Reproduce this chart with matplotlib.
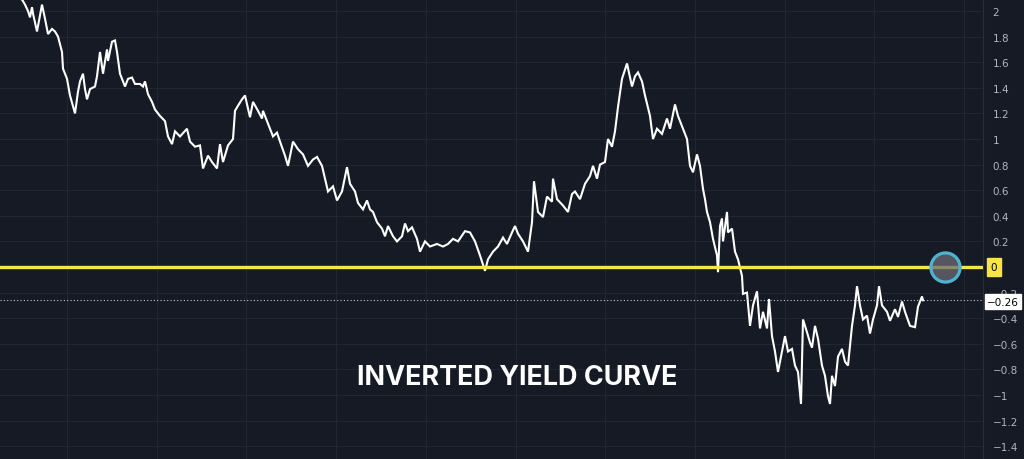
"""
Curva de rendimientos invertida: diferencial de tasas (estilo TradingView oscuro).
Guarda la figura en out.png.
"""

import numpy as np
import matplotlib

matplotlib.use("Agg")
import matplotlib.pyplot as plt

# --------------------------------------------------------------------------- #
# Datos (posición de la sesión y diferencial en puntos)
# --------------------------------------------------------------------------- #
sesion = [
    14, 22, 25, 28, 30, 32, 33, 37, 42, 45, 48, 52, 55, 58, 62, 63, 67, 70, 75, 78,
    80, 83, 85, 87, 90, 95, 97, 100, 103, 107, 108, 112, 115, 117, 120, 125, 128, 132,
    135, 140, 143, 145, 148, 152, 155, 160, 165, 168, 172, 175, 180, 187, 190, 195,
    200, 203, 208, 212, 217, 220, 223, 228, 233, 235, 238, 242, 245, 250, 253, 258,
    262, 263, 268, 273, 277, 280, 285, 288, 293, 298, 303, 308, 313, 317, 322, 325,
    328, 333, 337, 342, 347, 350, 355, 358, 363, 367, 370, 373, 377, 382, 385, 388,
    393, 397, 402, 405, 408, 412, 417, 420, 425, 430, 437, 443, 448, 453, 458, 465,
    470, 475, 480, 485, 488, 493, 498, 503, 507, 512, 515, 518, 523, 528, 532, 534,
    538, 543, 547, 552, 553, 557, 563, 568, 572, 575, 580, 585, 590, 593, 597, 600,
    605, 608, 612, 615, 618, 622, 627, 632, 635, 638, 642, 645, 650, 653, 657, 662,
    667, 670, 675, 678, 683, 687, 690, 693, 697, 700, 703, 705, 707, 710, 713, 717,
    718, 720, 722, 723, 727, 728, 732, 735, 738, 742, 743, 747, 750, 753, 757, 760,
    763, 767, 769, 772, 775, 778, 782, 785, 788, 792, 795, 798, 801, 803, 807, 810,
    812, 815, 818, 822, 825, 828, 830, 832, 835, 838, 842, 845, 848, 852, 855, 857,
    860, 863, 867, 870, 873, 877, 879, 882, 887, 890, 895, 898, 902, 905, 910, 915,
    918, 922, 923,
]
diferencial = [
    2.11, 2.09, 2.05, 2.00, 1.95, 2.03, 1.98, 1.84, 2.05, 1.94, 1.82, 1.86, 1.84, 1.80,
    1.68, 1.55, 1.47, 1.34, 1.20, 1.37, 1.45, 1.51, 1.39, 1.31, 1.39, 1.41, 1.49, 1.68,
    1.51, 1.70, 1.61, 1.76, 1.77, 1.68, 1.51, 1.41, 1.47, 1.48, 1.43, 1.43, 1.41, 1.45,
    1.35, 1.29, 1.23, 1.18, 1.14, 1.02, 0.96, 1.06, 1.02, 1.08, 0.98, 0.94, 0.95, 0.77,
    0.87, 0.82, 0.77, 0.96, 0.82, 0.95, 1.00, 1.22, 1.26, 1.31, 1.34, 1.17, 1.29, 1.22,
    1.16, 1.22, 1.12, 1.02, 1.05, 0.98, 0.87, 0.79, 0.98, 0.92, 0.88, 0.79, 0.84, 0.86,
    0.79, 0.69, 0.59, 0.63, 0.52, 0.59, 0.78, 0.65, 0.59, 0.50, 0.45, 0.52, 0.45, 0.43,
    0.35, 0.30, 0.24, 0.32, 0.24, 0.20, 0.24, 0.34, 0.28, 0.31, 0.22, 0.12, 0.20, 0.16,
    0.18, 0.16, 0.18, 0.22, 0.20, 0.28, 0.27, 0.20, 0.09, -0.03, 0.06, 0.12, 0.16, 0.23,
    0.18, 0.27, 0.32, 0.26, 0.20, 0.12, 0.35, 0.67, 0.43, 0.39, 0.55, 0.51, 0.69, 0.53,
    0.48, 0.43, 0.57, 0.59, 0.53, 0.65, 0.71, 0.79, 0.69, 0.80, 0.82, 1.00, 0.94, 1.06,
    1.25, 1.47, 1.59, 1.41, 1.49, 1.52, 1.45, 1.34, 1.18, 1.00, 1.08, 1.04, 1.16, 1.08,
    1.27, 1.18, 1.08, 1.00, 0.79, 0.74, 0.88, 0.79, 0.61, 0.53, 0.43, 0.35, 0.22, 0.09,
    -0.04, 0.32, 0.38, 0.20, 0.43, 0.27, 0.30, 0.12, 0.06, -0.07, -0.21, -0.20, -0.46,
    -0.30, -0.19, -0.48, -0.35, -0.48, -0.25, -0.54, -0.66, -0.82, -0.66, -0.54, -0.66,
    -0.64, -0.77, -0.82, -1.07, -0.41, -0.51, -0.59, -0.63, -0.46, -0.56, -0.77, -0.85,
    -1.01, -1.07, -0.85, -0.93, -0.70, -0.64, -0.74, -0.77, -0.46, -0.30, -0.15, -0.30,
    -0.41, -0.38, -0.52, -0.41, -0.30, -0.15, -0.30, -0.35, -0.42, -0.33, -0.39, -0.27,
    -0.35, -0.46, -0.47, -0.31, -0.23, -0.26,
]
ultimo = -0.26
marca_circulo = 945
titulo = "INVERTED YIELD CURVE"

# --------------------------------------------------------------------------- #
# Colores (tema oscuro)
# --------------------------------------------------------------------------- #
FONDO = "#161a25"
REJILLA = "#222633"
TEXTO_EJE = "#b2b5be"
AMARILLO = "#f7e445"
CIAN = "#4db3d1"


def fmt_eje(v, _):
    # el 0 lo tapa la etiqueta amarilla
    if abs(v) < 1e-9:
        return ""
    return f"{v:g}".replace("-", "\u2212")


fig = plt.figure(figsize=(10.24, 4.6), dpi=100, facecolor=FONDO)
ax = fig.add_axes([0, 0, 983 / 1024, 1])
ax.set_facecolor(FONDO)

ax.set_xlim(0, 983)
ax.set_ylim(-1.5, 268 / 128)

# rejilla
ax.set_yticks(np.round(np.arange(-1.4, 2.01, 0.2), 1))
ax.set_xticks(np.arange(67, 983, 89.7))
ax.grid(True, color=REJILLA, linewidth=0.8)
ax.set_axisbelow(True)
ax.tick_params(axis="x", length=0, labelbottom=False)
ax.yaxis.tick_right()
ax.tick_params(axis="y", length=0, pad=7, labelsize=7.5, colors=TEXTO_EJE)
ax.yaxis.set_major_formatter(plt.FuncFormatter(fmt_eje))
for lado in ["top", "bottom", "left"]:
    ax.spines[lado].set_visible(False)
ax.spines["right"].set_color("#2a2e39")

# serie principal
ax.plot(sesion, diferencial, color="white", linewidth=1.5, solid_joinstyle="miter", zorder=3)

# línea de cero y último valor
ax.axhline(0, color=AMARILLO, linewidth=2.4, zorder=4)
ax.axhline(ultimo, color="#c8c8c8", linewidth=0.8, linestyle=(0, (1, 2)), zorder=2)

ax.text(1.008, 0, "0", transform=ax.get_yaxis_transform(), va="center", ha="left",
        fontsize=7.5, color="black", zorder=6,
        bbox=dict(boxstyle="square,pad=0.35", fc=AMARILLO, ec=AMARILLO))
ax.text(1.004, ultimo - 0.01, fmt_eje(ultimo, None),
        transform=ax.get_yaxis_transform(), va="center", ha="left",
        fontsize=7.5, color="black", zorder=6,
        bbox=dict(boxstyle="square,pad=0.2", fc="white", ec="white"))

# círculo sobre el cero
ax.plot([marca_circulo], [0], marker="o", markersize=21, markeredgewidth=2.3,
        markeredgecolor=CIAN, markerfacecolor=(0.42, 0.42, 0.45, 0.75), zorder=5)

# título
ax.text(517, -0.86, titulo, ha="center", va="center", fontsize=19.4,
        fontweight="bold", color="white", family=["Inter", "DejaVu Sans"], zorder=6)

fig.savefig("out.png", dpi=100, facecolor=FONDO)
plt.close(fig)
